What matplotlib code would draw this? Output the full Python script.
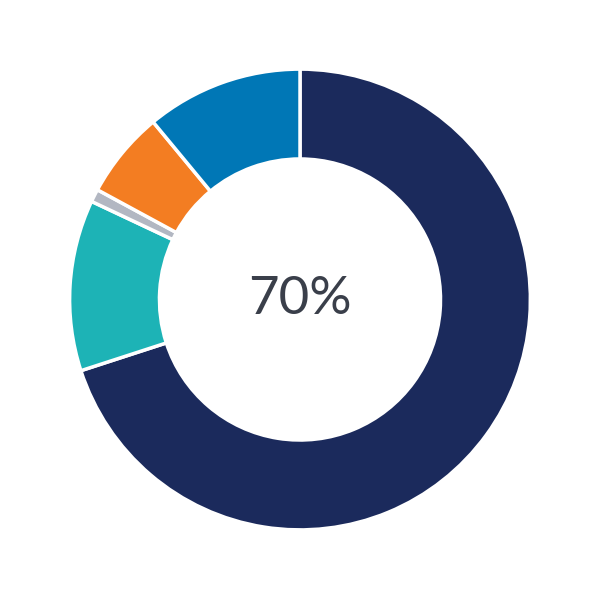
import matplotlib
matplotlib.use("Agg")
import matplotlib.pyplot as plt

categories = ["Navy", "Teal", "Gray", "Orange", "Blue"]
values = [70, 12, 0.9, 6.1, 11]
colors = ["#1B2A5C", "#1DB3B6", "#B2B7C2", "#F37D22", "#0077B6"]
center_label = "70%"

fig = plt.figure(figsize=(6.0, 5.99), dpi=100)
ax = fig.add_axes([0, 0, 1, 1])
ax.pie(values, colors=colors, startangle=90, counterclock=False, radius=1.0,
       wedgeprops=dict(width=0.39, edgecolor="white", linewidth=2.5))
ax.set_xlim(-1.3, 1.3)
ax.set_ylim(-1.3, 1.3)
ax.set_aspect("equal")
ax.axis("off")
ax.text(0, 0, center_label, ha="center", va="center", fontsize=38,
        color="#3A3F4A", family=["Lato", "DejaVu Sans"])
fig.savefig("out.png", dpi=100)
